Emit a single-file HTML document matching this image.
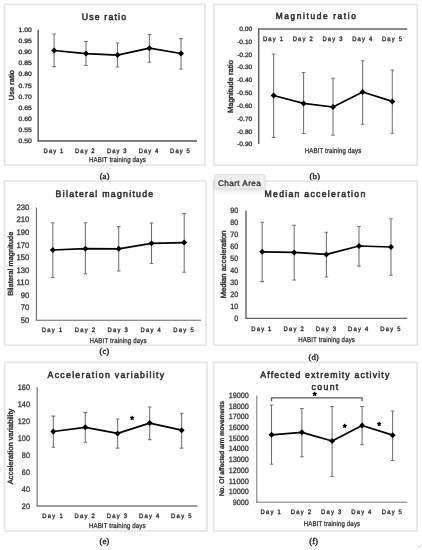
<!DOCTYPE html><html><head><meta charset="utf-8"><title>HABIT training charts</title><style>html,body{margin:0;padding:0;background:#fff;overflow:hidden}svg{display:block}text{font-family:"Liberation Sans",Arial,sans-serif;stroke-linejoin:round;text-rendering:geometricPrecision}</style></head><body>
<svg width="422" height="550" viewBox="0 0 422 550">
<rect width="422" height="550" fill="#fff"/>
<rect x="4.5" y="4.3" width="200.40" height="160.80" fill="#fff" stroke="#e5e5e5" stroke-width="1.7"/>
<text transform="translate(81.70 20.20) scale(0.93 1)" font-size="9.4" textLength="47.74" lengthAdjust="spacing" fill="#2e2e2e" stroke="#2e2e2e" stroke-width="0.55">Use ratio</text>
<text transform="translate(31.85 31.86)" font-size="6.3" text-anchor="end" textLength="13.30" lengthAdjust="spacingAndGlyphs" fill="#333" stroke="#333" stroke-width="0.3">1.00</text>
<text transform="translate(31.85 43.01)" font-size="6.3" text-anchor="end" textLength="13.30" lengthAdjust="spacingAndGlyphs" fill="#333" stroke="#333" stroke-width="0.3">0.95</text>
<text transform="translate(31.85 54.16)" font-size="6.3" text-anchor="end" textLength="13.30" lengthAdjust="spacingAndGlyphs" fill="#333" stroke="#333" stroke-width="0.3">0.90</text>
<text transform="translate(31.85 65.31)" font-size="6.3" text-anchor="end" textLength="13.30" lengthAdjust="spacingAndGlyphs" fill="#333" stroke="#333" stroke-width="0.3">0.85</text>
<text transform="translate(31.85 76.46)" font-size="6.3" text-anchor="end" textLength="13.30" lengthAdjust="spacingAndGlyphs" fill="#333" stroke="#333" stroke-width="0.3">0.80</text>
<text transform="translate(31.85 87.61)" font-size="6.3" text-anchor="end" textLength="13.30" lengthAdjust="spacingAndGlyphs" fill="#333" stroke="#333" stroke-width="0.3">0.75</text>
<text transform="translate(31.85 98.76)" font-size="6.3" text-anchor="end" textLength="13.30" lengthAdjust="spacingAndGlyphs" fill="#333" stroke="#333" stroke-width="0.3">0.70</text>
<text transform="translate(31.85 109.91)" font-size="6.3" text-anchor="end" textLength="13.30" lengthAdjust="spacingAndGlyphs" fill="#333" stroke="#333" stroke-width="0.3">0.65</text>
<text transform="translate(31.85 121.06)" font-size="6.3" text-anchor="end" textLength="13.30" lengthAdjust="spacingAndGlyphs" fill="#333" stroke="#333" stroke-width="0.3">0.60</text>
<text transform="translate(31.85 132.21)" font-size="6.3" text-anchor="end" textLength="13.30" lengthAdjust="spacingAndGlyphs" fill="#333" stroke="#333" stroke-width="0.3">0.55</text>
<text transform="translate(31.85 143.36)" font-size="6.3" text-anchor="end" textLength="13.30" lengthAdjust="spacingAndGlyphs" fill="#333" stroke="#333" stroke-width="0.3">0.50</text>
<line x1="38.2" y1="29.8" x2="38.2" y2="141.2" stroke="#555" stroke-width="1.4"/>
<line x1="37.6" y1="141" x2="197" y2="141" stroke="#555" stroke-width="1.4"/>
<text transform="translate(53.40 152.80) scale(0.92 1)" font-size="6.4" text-anchor="middle" textLength="21.30" lengthAdjust="spacing" fill="#333" stroke="#333" stroke-width="0.35">Day 1</text>
<text transform="translate(84.80 152.80) scale(0.92 1)" font-size="6.4" text-anchor="middle" textLength="21.30" lengthAdjust="spacing" fill="#333" stroke="#333" stroke-width="0.35">Day 2</text>
<text transform="translate(116.70 152.80) scale(0.92 1)" font-size="6.4" text-anchor="middle" textLength="21.30" lengthAdjust="spacing" fill="#333" stroke="#333" stroke-width="0.35">Day 3</text>
<text transform="translate(148.50 152.80) scale(0.92 1)" font-size="6.4" text-anchor="middle" textLength="21.30" lengthAdjust="spacing" fill="#333" stroke="#333" stroke-width="0.35">Day 4</text>
<text transform="translate(179.90 152.80) scale(0.92 1)" font-size="6.4" text-anchor="middle" textLength="21.30" lengthAdjust="spacing" fill="#333" stroke="#333" stroke-width="0.35">Day 5</text>
<text transform="translate(88.90 162.40) scale(0.86 1)" font-size="7.1" textLength="66.28" lengthAdjust="spacing" fill="#262626" stroke="#262626" stroke-width="0.25">HABIT training days</text>
<text transform="translate(14.10 100.20) rotate(-90)" font-size="7.4" textLength="30.20" lengthAdjust="spacing" fill="#262626" stroke="#262626" stroke-width="0.35">Use ratio</text>
<path d="M54.10 34.00V66.60M52.30 34.00h3.6M52.30 66.60h3.6" stroke="#727272" stroke-width="1.05" fill="none"/>
<path d="M86.00 41.40V65.50M84.20 41.40h3.6M84.20 65.50h3.6" stroke="#727272" stroke-width="1.05" fill="none"/>
<path d="M117.50 43.00V66.90M115.70 43.00h3.6M115.70 66.90h3.6" stroke="#727272" stroke-width="1.05" fill="none"/>
<path d="M149.40 34.50V62.20M147.60 34.50h3.6M147.60 62.20h3.6" stroke="#727272" stroke-width="1.05" fill="none"/>
<path d="M181.00 38.60V69.00M179.20 38.60h3.6M179.20 69.00h3.6" stroke="#727272" stroke-width="1.05" fill="none"/>
<polyline points="54.10,50.50 86.00,53.60 117.50,55.10 149.40,48.20 181.00,53.50" fill="none" stroke="#000" stroke-width="1.75" stroke-linejoin="round"/>
<path d="M54.10 47.50L57.10 50.50L54.10 53.50L51.10 50.50Z" fill="#000"/>
<path d="M86.00 50.60L89.00 53.60L86.00 56.60L83.00 53.60Z" fill="#000"/>
<path d="M117.50 52.10L120.50 55.10L117.50 58.10L114.50 55.10Z" fill="#000"/>
<path d="M149.40 45.20L152.40 48.20L149.40 51.20L146.40 48.20Z" fill="#000"/>
<path d="M181.00 50.50L184.00 53.50L181.00 56.50L178.00 53.50Z" fill="#000"/>
<text transform="translate(104.50 179.10)" font-size="8.8" text-anchor="middle" fill="#1e1e1e" stroke="#1e1e1e" stroke-width="0.4" style='font-family:"Liberation Serif", "Times New Roman", serif'>(a)</text>
<rect x="213.9" y="4.3" width="203.30" height="160.90" fill="#fff" stroke="#e5e5e5" stroke-width="1.7"/>
<text transform="translate(275.80 18.80) scale(0.93 1)" font-size="9.0" textLength="86.02" lengthAdjust="spacing" fill="#2e2e2e" stroke="#2e2e2e" stroke-width="0.55">Magnitude ratio</text>
<text transform="translate(252.25 30.96)" font-size="6.3" text-anchor="end" textLength="13.10" lengthAdjust="spacingAndGlyphs" fill="#333" stroke="#333" stroke-width="0.3">0.00</text>
<text transform="translate(252.25 43.78)" font-size="6.3" text-anchor="end" textLength="15.10" lengthAdjust="spacingAndGlyphs" fill="#333" stroke="#333" stroke-width="0.3">-0.10</text>
<text transform="translate(252.25 56.60)" font-size="6.3" text-anchor="end" textLength="15.10" lengthAdjust="spacingAndGlyphs" fill="#333" stroke="#333" stroke-width="0.3">-0.20</text>
<text transform="translate(252.25 69.42)" font-size="6.3" text-anchor="end" textLength="15.10" lengthAdjust="spacingAndGlyphs" fill="#333" stroke="#333" stroke-width="0.3">-0.30</text>
<text transform="translate(252.25 82.24)" font-size="6.3" text-anchor="end" textLength="15.10" lengthAdjust="spacingAndGlyphs" fill="#333" stroke="#333" stroke-width="0.3">-0.40</text>
<text transform="translate(252.25 95.06)" font-size="6.3" text-anchor="end" textLength="15.10" lengthAdjust="spacingAndGlyphs" fill="#333" stroke="#333" stroke-width="0.3">-0.50</text>
<text transform="translate(252.25 107.88)" font-size="6.3" text-anchor="end" textLength="15.10" lengthAdjust="spacingAndGlyphs" fill="#333" stroke="#333" stroke-width="0.3">-0.60</text>
<text transform="translate(252.25 120.70)" font-size="6.3" text-anchor="end" textLength="15.10" lengthAdjust="spacingAndGlyphs" fill="#333" stroke="#333" stroke-width="0.3">-0.70</text>
<text transform="translate(252.25 133.52)" font-size="6.3" text-anchor="end" textLength="15.10" lengthAdjust="spacingAndGlyphs" fill="#333" stroke="#333" stroke-width="0.3">-0.80</text>
<text transform="translate(252.25 146.34)" font-size="6.3" text-anchor="end" textLength="15.10" lengthAdjust="spacingAndGlyphs" fill="#333" stroke="#333" stroke-width="0.3">-0.90</text>
<line x1="258.7" y1="28.5" x2="258.7" y2="144" stroke="#636363" stroke-width="1.5"/>
<line x1="258.2" y1="29" x2="407.2" y2="29" stroke="#636363" stroke-width="1.5"/>
<text transform="translate(273.00 40.70) scale(0.92 1)" font-size="6.4" text-anchor="middle" textLength="21.96" lengthAdjust="spacing" fill="#333" stroke="#333" stroke-width="0.35">Day 1</text>
<text transform="translate(302.75 40.70) scale(0.92 1)" font-size="6.4" text-anchor="middle" textLength="21.96" lengthAdjust="spacing" fill="#333" stroke="#333" stroke-width="0.35">Day 2</text>
<text transform="translate(332.50 40.70) scale(0.92 1)" font-size="6.4" text-anchor="middle" textLength="21.96" lengthAdjust="spacing" fill="#333" stroke="#333" stroke-width="0.35">Day 3</text>
<text transform="translate(362.25 40.70) scale(0.92 1)" font-size="6.4" text-anchor="middle" textLength="21.96" lengthAdjust="spacing" fill="#333" stroke="#333" stroke-width="0.35">Day 4</text>
<text transform="translate(392.00 40.70) scale(0.92 1)" font-size="6.4" text-anchor="middle" textLength="21.96" lengthAdjust="spacing" fill="#333" stroke="#333" stroke-width="0.35">Day 5</text>
<text transform="translate(304.80 152.70) scale(0.86 1)" font-size="7.1" textLength="65.58" lengthAdjust="spacing" fill="#262626" stroke="#262626" stroke-width="0.25">HABIT training days</text>
<text transform="translate(233.10 113.10) rotate(-90)" font-size="7.6" textLength="53.10" lengthAdjust="spacing" fill="#262626" stroke="#262626" stroke-width="0.35">Magnitude ratio</text>
<path d="M273.60 54.00V137.40M271.80 54.00h3.6M271.80 137.40h3.6" stroke="#727272" stroke-width="1.05" fill="none"/>
<path d="M303.60 72.40V133.40M301.80 72.40h3.6M301.80 133.40h3.6" stroke="#727272" stroke-width="1.05" fill="none"/>
<path d="M333.00 78.20V135.20M331.20 78.20h3.6M331.20 135.20h3.6" stroke="#727272" stroke-width="1.05" fill="none"/>
<path d="M362.60 60.70V124.20M360.80 60.70h3.6M360.80 124.20h3.6" stroke="#727272" stroke-width="1.05" fill="none"/>
<path d="M392.30 69.90V133.20M390.50 69.90h3.6M390.50 133.20h3.6" stroke="#727272" stroke-width="1.05" fill="none"/>
<polyline points="273.60,95.50 303.60,103.40 333.00,107.00 362.60,92.00 392.30,101.40" fill="none" stroke="#000" stroke-width="1.75" stroke-linejoin="round"/>
<path d="M273.60 92.50L276.60 95.50L273.60 98.50L270.60 95.50Z" fill="#000"/>
<path d="M303.60 100.40L306.60 103.40L303.60 106.40L300.60 103.40Z" fill="#000"/>
<path d="M333.00 104.00L336.00 107.00L333.00 110.00L330.00 107.00Z" fill="#000"/>
<path d="M362.60 89.00L365.60 92.00L362.60 95.00L359.60 92.00Z" fill="#000"/>
<path d="M392.30 98.40L395.30 101.40L392.30 104.40L389.30 101.40Z" fill="#000"/>
<text transform="translate(314.70 178.80)" font-size="8.8" text-anchor="middle" fill="#1e1e1e" stroke="#1e1e1e" stroke-width="0.4" style='font-family:"Liberation Serif", "Times New Roman", serif'>(b)</text>
<rect x="4.5" y="181.1" width="201.50" height="164.10" fill="#fff" stroke="#e5e5e5" stroke-width="1.7"/>
<text transform="translate(55.60 197.40) scale(0.93 1)" font-size="9.4" textLength="104.95" lengthAdjust="spacing" fill="#2e2e2e" stroke="#2e2e2e" stroke-width="0.55">Bilateral magnitude</text>
<text transform="translate(29.25 209.76)" font-size="8.0" text-anchor="end" textLength="12.80" lengthAdjust="spacingAndGlyphs" fill="#333" stroke="#333" stroke-width="0.3">230</text>
<text transform="translate(29.25 222.35)" font-size="8.0" text-anchor="end" textLength="12.80" lengthAdjust="spacingAndGlyphs" fill="#333" stroke="#333" stroke-width="0.3">210</text>
<text transform="translate(29.25 234.94)" font-size="8.0" text-anchor="end" textLength="12.80" lengthAdjust="spacingAndGlyphs" fill="#333" stroke="#333" stroke-width="0.3">190</text>
<text transform="translate(29.25 247.53)" font-size="8.0" text-anchor="end" textLength="12.80" lengthAdjust="spacingAndGlyphs" fill="#333" stroke="#333" stroke-width="0.3">170</text>
<text transform="translate(29.25 260.12)" font-size="8.0" text-anchor="end" textLength="12.80" lengthAdjust="spacingAndGlyphs" fill="#333" stroke="#333" stroke-width="0.3">150</text>
<text transform="translate(29.25 272.71)" font-size="8.0" text-anchor="end" textLength="12.80" lengthAdjust="spacingAndGlyphs" fill="#333" stroke="#333" stroke-width="0.3">130</text>
<text transform="translate(29.25 285.30)" font-size="8.0" text-anchor="end" textLength="12.80" lengthAdjust="spacingAndGlyphs" fill="#333" stroke="#333" stroke-width="0.3">110</text>
<text transform="translate(29.25 297.89)" font-size="8.0" text-anchor="end" textLength="8.50" lengthAdjust="spacingAndGlyphs" fill="#333" stroke="#333" stroke-width="0.3">90</text>
<text transform="translate(29.25 310.48)" font-size="8.0" text-anchor="end" textLength="8.50" lengthAdjust="spacingAndGlyphs" fill="#333" stroke="#333" stroke-width="0.3">70</text>
<text transform="translate(29.25 323.07)" font-size="8.0" text-anchor="end" textLength="8.50" lengthAdjust="spacingAndGlyphs" fill="#333" stroke="#333" stroke-width="0.3">50</text>
<line x1="36.4" y1="207.5" x2="36.4" y2="320.6" stroke="#686868" stroke-width="1.1"/>
<line x1="35.8" y1="320.3" x2="200.9" y2="320.3" stroke="#686868" stroke-width="1.1"/>
<text transform="translate(52.00 331.90) scale(0.92 1)" font-size="6.4" text-anchor="middle" textLength="22.17" lengthAdjust="spacing" fill="#333" stroke="#333" stroke-width="0.35">Day 1</text>
<text transform="translate(84.90 331.90) scale(0.92 1)" font-size="6.4" text-anchor="middle" textLength="22.17" lengthAdjust="spacing" fill="#333" stroke="#333" stroke-width="0.35">Day 2</text>
<text transform="translate(117.70 331.90) scale(0.92 1)" font-size="6.4" text-anchor="middle" textLength="22.17" lengthAdjust="spacing" fill="#333" stroke="#333" stroke-width="0.35">Day 3</text>
<text transform="translate(150.60 331.90) scale(0.92 1)" font-size="6.4" text-anchor="middle" textLength="22.17" lengthAdjust="spacing" fill="#333" stroke="#333" stroke-width="0.35">Day 4</text>
<text transform="translate(183.50 331.90) scale(0.92 1)" font-size="6.4" text-anchor="middle" textLength="22.17" lengthAdjust="spacing" fill="#333" stroke="#333" stroke-width="0.35">Day 5</text>
<text transform="translate(89.60 343.30) scale(0.86 1)" font-size="7.1" textLength="66.28" lengthAdjust="spacing" fill="#262626" stroke="#262626" stroke-width="0.25">HABIT training days</text>
<text transform="translate(12.90 295.80) rotate(-90)" font-size="7.4" textLength="64.20" lengthAdjust="spacing" fill="#262626" stroke="#262626" stroke-width="0.35">Bilateral magnitude</text>
<path d="M52.80 222.70V277.50M51.00 222.70h3.6M51.00 277.50h3.6" stroke="#727272" stroke-width="1.05" fill="none"/>
<path d="M85.40 222.70V273.80M83.60 222.70h3.6M83.60 273.80h3.6" stroke="#727272" stroke-width="1.05" fill="none"/>
<path d="M118.70 226.60V270.90M116.90 226.60h3.6M116.90 270.90h3.6" stroke="#727272" stroke-width="1.05" fill="none"/>
<path d="M151.50 222.90V263.40M149.70 222.90h3.6M149.70 263.40h3.6" stroke="#727272" stroke-width="1.05" fill="none"/>
<path d="M184.20 213.60V272.30M182.40 213.60h3.6M182.40 272.30h3.6" stroke="#727272" stroke-width="1.05" fill="none"/>
<polyline points="52.80,250.00 85.40,248.70 118.70,248.80 151.50,243.30 184.20,242.60" fill="none" stroke="#000" stroke-width="1.75" stroke-linejoin="round"/>
<path d="M52.80 247.00L55.80 250.00L52.80 253.00L49.80 250.00Z" fill="#000"/>
<path d="M85.40 245.70L88.40 248.70L85.40 251.70L82.40 248.70Z" fill="#000"/>
<path d="M118.70 245.80L121.70 248.80L118.70 251.80L115.70 248.80Z" fill="#000"/>
<path d="M151.50 240.30L154.50 243.30L151.50 246.30L148.50 243.30Z" fill="#000"/>
<path d="M184.20 239.60L187.20 242.60L184.20 245.60L181.20 242.60Z" fill="#000"/>
<text transform="translate(104.40 353.70)" font-size="8.8" text-anchor="middle" fill="#1e1e1e" stroke="#1e1e1e" stroke-width="0.4" style='font-family:"Liberation Serif", "Times New Roman", serif'>(c)</text>
<rect x="213.6" y="181.1" width="203.60" height="164.10" fill="#fff" stroke="#e5e5e5" stroke-width="1.7"/>
<text transform="translate(264.50 196.90) scale(0.93 1)" font-size="9.4" textLength="108.39" lengthAdjust="spacing" fill="#2e2e2e" stroke="#2e2e2e" stroke-width="0.55">Median acceleration</text>
<text transform="translate(238.15 212.99)" font-size="7.8" text-anchor="end" textLength="7.90" lengthAdjust="spacingAndGlyphs" fill="#333" stroke="#333" stroke-width="0.3">90</text>
<text transform="translate(238.15 224.99)" font-size="7.8" text-anchor="end" textLength="7.90" lengthAdjust="spacingAndGlyphs" fill="#333" stroke="#333" stroke-width="0.3">80</text>
<text transform="translate(238.15 236.99)" font-size="7.8" text-anchor="end" textLength="7.90" lengthAdjust="spacingAndGlyphs" fill="#333" stroke="#333" stroke-width="0.3">70</text>
<text transform="translate(238.15 248.99)" font-size="7.8" text-anchor="end" textLength="7.90" lengthAdjust="spacingAndGlyphs" fill="#333" stroke="#333" stroke-width="0.3">60</text>
<text transform="translate(238.15 260.99)" font-size="7.8" text-anchor="end" textLength="7.90" lengthAdjust="spacingAndGlyphs" fill="#333" stroke="#333" stroke-width="0.3">50</text>
<text transform="translate(238.15 272.99)" font-size="7.8" text-anchor="end" textLength="7.90" lengthAdjust="spacingAndGlyphs" fill="#333" stroke="#333" stroke-width="0.3">40</text>
<text transform="translate(238.15 284.99)" font-size="7.8" text-anchor="end" textLength="7.90" lengthAdjust="spacingAndGlyphs" fill="#333" stroke="#333" stroke-width="0.3">30</text>
<text transform="translate(238.15 296.99)" font-size="7.8" text-anchor="end" textLength="7.90" lengthAdjust="spacingAndGlyphs" fill="#333" stroke="#333" stroke-width="0.3">20</text>
<text transform="translate(238.15 308.99)" font-size="7.8" text-anchor="end" textLength="7.90" lengthAdjust="spacingAndGlyphs" fill="#333" stroke="#333" stroke-width="0.3">10</text>
<text transform="translate(238.15 320.99)" font-size="7.8" text-anchor="end" textLength="3.95" lengthAdjust="spacingAndGlyphs" fill="#333" stroke="#333" stroke-width="0.3">0</text>
<line x1="246" y1="210.8" x2="246" y2="318.8" stroke="#626262" stroke-width="1.4"/>
<line x1="245.5" y1="318.4" x2="407.2" y2="318.4" stroke="#626262" stroke-width="1.4"/>
<text transform="translate(261.30 330.60) scale(0.92 1)" font-size="6.4" text-anchor="middle" textLength="21.96" lengthAdjust="spacing" fill="#333" stroke="#333" stroke-width="0.35">Day 1</text>
<text transform="translate(293.60 330.60) scale(0.92 1)" font-size="6.4" text-anchor="middle" textLength="21.96" lengthAdjust="spacing" fill="#333" stroke="#333" stroke-width="0.35">Day 2</text>
<text transform="translate(325.90 330.60) scale(0.92 1)" font-size="6.4" text-anchor="middle" textLength="21.96" lengthAdjust="spacing" fill="#333" stroke="#333" stroke-width="0.35">Day 3</text>
<text transform="translate(358.10 330.60) scale(0.92 1)" font-size="6.4" text-anchor="middle" textLength="21.96" lengthAdjust="spacing" fill="#333" stroke="#333" stroke-width="0.35">Day 4</text>
<text transform="translate(390.40 330.60) scale(0.92 1)" font-size="6.4" text-anchor="middle" textLength="21.96" lengthAdjust="spacing" fill="#333" stroke="#333" stroke-width="0.35">Day 5</text>
<text transform="translate(298.30 341.80) scale(0.86 1)" font-size="7.1" textLength="65.81" lengthAdjust="spacing" fill="#262626" stroke="#262626" stroke-width="0.25">HABIT training days</text>
<text transform="translate(225.80 298.30) rotate(-90)" font-size="7.6" textLength="67.80" lengthAdjust="spacing" fill="#262626" stroke="#262626" stroke-width="0.35">Median acceleration</text>
<path d="M262.20 222.20V281.60M260.40 222.20h3.6M260.40 281.60h3.6" stroke="#727272" stroke-width="1.05" fill="none"/>
<path d="M294.20 225.30V279.90M292.40 225.30h3.6M292.40 279.90h3.6" stroke="#727272" stroke-width="1.05" fill="none"/>
<path d="M326.40 232.20V276.90M324.60 232.20h3.6M324.60 276.90h3.6" stroke="#727272" stroke-width="1.05" fill="none"/>
<path d="M359.00 226.40V266.10M357.20 226.40h3.6M357.20 266.10h3.6" stroke="#727272" stroke-width="1.05" fill="none"/>
<path d="M391.00 218.70V275.20M389.20 218.70h3.6M389.20 275.20h3.6" stroke="#727272" stroke-width="1.05" fill="none"/>
<polyline points="262.20,251.80 294.20,252.40 326.40,254.40 359.00,246.00 391.00,247.00" fill="none" stroke="#000" stroke-width="1.75" stroke-linejoin="round"/>
<path d="M262.20 248.80L265.20 251.80L262.20 254.80L259.20 251.80Z" fill="#000"/>
<path d="M294.20 249.40L297.20 252.40L294.20 255.40L291.20 252.40Z" fill="#000"/>
<path d="M326.40 251.40L329.40 254.40L326.40 257.40L323.40 254.40Z" fill="#000"/>
<path d="M359.00 243.00L362.00 246.00L359.00 249.00L356.00 246.00Z" fill="#000"/>
<path d="M391.00 244.00L394.00 247.00L391.00 250.00L388.00 247.00Z" fill="#000"/>
<text transform="translate(313.60 359.90)" font-size="8.8" text-anchor="middle" fill="#1e1e1e" stroke="#1e1e1e" stroke-width="0.4" style='font-family:"Liberation Serif", "Times New Roman", serif'>(d)</text>
<rect x="4.6" y="362.3" width="202.40" height="168.60" fill="#fff" stroke="#e5e5e5" stroke-width="1.7"/>
<text transform="translate(47.60 377.80) scale(0.93 1)" font-size="9.4" textLength="125.16" lengthAdjust="spacing" fill="#2e2e2e" stroke="#2e2e2e" stroke-width="0.55">Acceleration variability</text>
<text transform="translate(29.95 389.56)" font-size="8.0" text-anchor="end" textLength="12.20" lengthAdjust="spacingAndGlyphs" fill="#333" stroke="#333" stroke-width="0.3">160</text>
<text transform="translate(29.95 406.57)" font-size="8.0" text-anchor="end" textLength="12.20" lengthAdjust="spacingAndGlyphs" fill="#333" stroke="#333" stroke-width="0.3">140</text>
<text transform="translate(29.95 423.58)" font-size="8.0" text-anchor="end" textLength="12.20" lengthAdjust="spacingAndGlyphs" fill="#333" stroke="#333" stroke-width="0.3">120</text>
<text transform="translate(29.95 440.59)" font-size="8.0" text-anchor="end" textLength="12.20" lengthAdjust="spacingAndGlyphs" fill="#333" stroke="#333" stroke-width="0.3">100</text>
<text transform="translate(29.95 457.60)" font-size="8.0" text-anchor="end" textLength="8.10" lengthAdjust="spacingAndGlyphs" fill="#333" stroke="#333" stroke-width="0.3">80</text>
<text transform="translate(29.95 474.61)" font-size="8.0" text-anchor="end" textLength="8.10" lengthAdjust="spacingAndGlyphs" fill="#333" stroke="#333" stroke-width="0.3">60</text>
<text transform="translate(29.95 491.62)" font-size="8.0" text-anchor="end" textLength="8.10" lengthAdjust="spacingAndGlyphs" fill="#333" stroke="#333" stroke-width="0.3">40</text>
<text transform="translate(29.95 508.63)" font-size="8.0" text-anchor="end" textLength="8.10" lengthAdjust="spacingAndGlyphs" fill="#333" stroke="#333" stroke-width="0.3">20</text>
<line x1="37.2" y1="387.2" x2="37.2" y2="506.4" stroke="#7c7c7c" stroke-width="1.3"/>
<line x1="36.6" y1="506" x2="197.5" y2="506" stroke="#7c7c7c" stroke-width="1.3"/>
<text transform="translate(52.50 518.00) scale(0.92 1)" font-size="6.4" text-anchor="middle" textLength="22.17" lengthAdjust="spacing" fill="#333" stroke="#333" stroke-width="0.35">Day 1</text>
<text transform="translate(84.70 518.00) scale(0.92 1)" font-size="6.4" text-anchor="middle" textLength="22.17" lengthAdjust="spacing" fill="#333" stroke="#333" stroke-width="0.35">Day 2</text>
<text transform="translate(116.90 518.00) scale(0.92 1)" font-size="6.4" text-anchor="middle" textLength="22.17" lengthAdjust="spacing" fill="#333" stroke="#333" stroke-width="0.35">Day 3</text>
<text transform="translate(149.10 518.00) scale(0.92 1)" font-size="6.4" text-anchor="middle" textLength="22.17" lengthAdjust="spacing" fill="#333" stroke="#333" stroke-width="0.35">Day 4</text>
<text transform="translate(181.30 518.00) scale(0.92 1)" font-size="6.4" text-anchor="middle" textLength="22.17" lengthAdjust="spacing" fill="#333" stroke="#333" stroke-width="0.35">Day 5</text>
<text transform="translate(88.90 527.90) scale(0.86 1)" font-size="7.1" textLength="65.93" lengthAdjust="spacing" fill="#262626" stroke="#262626" stroke-width="0.25">HABIT training days</text>
<text transform="translate(13.30 484.20) rotate(-90)" font-size="7.6" textLength="75.60" lengthAdjust="spacing" fill="#262626" stroke="#262626" stroke-width="0.35">Acceleration variability</text>
<path d="M53.30 416.10V447.30M51.50 416.10h3.6M51.50 447.30h3.6" stroke="#727272" stroke-width="1.05" fill="none"/>
<path d="M85.30 412.60V442.20M83.50 412.60h3.6M83.50 442.20h3.6" stroke="#727272" stroke-width="1.05" fill="none"/>
<path d="M117.60 418.90V448.10M115.80 418.90h3.6M115.80 448.10h3.6" stroke="#727272" stroke-width="1.05" fill="none"/>
<path d="M149.70 406.90V439.60M147.90 406.90h3.6M147.90 439.60h3.6" stroke="#727272" stroke-width="1.05" fill="none"/>
<path d="M181.60 413.20V448.10M179.80 413.20h3.6M179.80 448.10h3.6" stroke="#727272" stroke-width="1.05" fill="none"/>
<polyline points="53.30,431.50 85.30,427.30 117.60,433.40 149.70,423.10 181.60,430.20" fill="none" stroke="#000" stroke-width="1.75" stroke-linejoin="round"/>
<path d="M53.30 428.50L56.30 431.50L53.30 434.50L50.30 431.50Z" fill="#000"/>
<path d="M85.30 424.30L88.30 427.30L85.30 430.30L82.30 427.30Z" fill="#000"/>
<path d="M117.60 430.40L120.60 433.40L117.60 436.40L114.60 433.40Z" fill="#000"/>
<path d="M149.70 420.10L152.70 423.10L149.70 426.10L146.70 423.10Z" fill="#000"/>
<path d="M181.60 427.20L184.60 430.20L181.60 433.20L178.60 430.20Z" fill="#000"/>
<text transform="translate(104.40 544.20)" font-size="8.8" text-anchor="middle" fill="#1e1e1e" stroke="#1e1e1e" stroke-width="0.4" style='font-family:"Liberation Serif", "Times New Roman", serif'>(e)</text>
<rect x="213.6" y="362.3" width="203.50" height="168.60" fill="#fff" stroke="#e5e5e5" stroke-width="1.7"/>
<text transform="translate(260.30 377.90) scale(0.93 1)" font-size="9.4" textLength="138.71" lengthAdjust="spacing" fill="#2e2e2e" stroke="#2e2e2e" stroke-width="0.55">Affected extremity activity</text>
<text transform="translate(311.60 389.60) scale(0.93 1)" font-size="9.4" textLength="28.71" lengthAdjust="spacing" fill="#2e2e2e" stroke="#2e2e2e" stroke-width="0.55">count</text>
<text transform="translate(248.85 397.79)" font-size="7.8" text-anchor="end" textLength="20.10" lengthAdjust="spacingAndGlyphs" fill="#333" stroke="#333" stroke-width="0.3">19000</text>
<text transform="translate(248.85 408.51)" font-size="7.8" text-anchor="end" textLength="20.10" lengthAdjust="spacingAndGlyphs" fill="#333" stroke="#333" stroke-width="0.3">18000</text>
<text transform="translate(248.85 419.23)" font-size="7.8" text-anchor="end" textLength="20.10" lengthAdjust="spacingAndGlyphs" fill="#333" stroke="#333" stroke-width="0.3">17000</text>
<text transform="translate(248.85 429.95)" font-size="7.8" text-anchor="end" textLength="20.10" lengthAdjust="spacingAndGlyphs" fill="#333" stroke="#333" stroke-width="0.3">16000</text>
<text transform="translate(248.85 440.67)" font-size="7.8" text-anchor="end" textLength="20.10" lengthAdjust="spacingAndGlyphs" fill="#333" stroke="#333" stroke-width="0.3">15000</text>
<text transform="translate(248.85 451.39)" font-size="7.8" text-anchor="end" textLength="20.10" lengthAdjust="spacingAndGlyphs" fill="#333" stroke="#333" stroke-width="0.3">14000</text>
<text transform="translate(248.85 462.11)" font-size="7.8" text-anchor="end" textLength="20.10" lengthAdjust="spacingAndGlyphs" fill="#333" stroke="#333" stroke-width="0.3">13000</text>
<text transform="translate(248.85 472.83)" font-size="7.8" text-anchor="end" textLength="20.10" lengthAdjust="spacingAndGlyphs" fill="#333" stroke="#333" stroke-width="0.3">12000</text>
<text transform="translate(248.85 483.55)" font-size="7.8" text-anchor="end" textLength="20.10" lengthAdjust="spacingAndGlyphs" fill="#333" stroke="#333" stroke-width="0.3">11000</text>
<text transform="translate(248.85 494.27)" font-size="7.8" text-anchor="end" textLength="20.10" lengthAdjust="spacingAndGlyphs" fill="#333" stroke="#333" stroke-width="0.3">10000</text>
<text transform="translate(248.85 504.99)" font-size="7.8" text-anchor="end" textLength="16.10" lengthAdjust="spacingAndGlyphs" fill="#333" stroke="#333" stroke-width="0.3">9000</text>
<line x1="256.8" y1="395.5" x2="256.8" y2="502.6" stroke="#747474" stroke-width="1.0"/>
<line x1="256.2" y1="502.2" x2="407.4" y2="502.2" stroke="#747474" stroke-width="1.0"/>
<text transform="translate(270.60 513.80) scale(0.92 1)" font-size="6.4" text-anchor="middle" textLength="21.96" lengthAdjust="spacing" fill="#333" stroke="#333" stroke-width="0.35">Day 1</text>
<text transform="translate(300.90 513.80) scale(0.92 1)" font-size="6.4" text-anchor="middle" textLength="21.96" lengthAdjust="spacing" fill="#333" stroke="#333" stroke-width="0.35">Day 2</text>
<text transform="translate(331.10 513.80) scale(0.92 1)" font-size="6.4" text-anchor="middle" textLength="21.96" lengthAdjust="spacing" fill="#333" stroke="#333" stroke-width="0.35">Day 3</text>
<text transform="translate(361.30 513.80) scale(0.92 1)" font-size="6.4" text-anchor="middle" textLength="21.96" lengthAdjust="spacing" fill="#333" stroke="#333" stroke-width="0.35">Day 4</text>
<text transform="translate(391.80 513.80) scale(0.92 1)" font-size="6.4" text-anchor="middle" textLength="21.96" lengthAdjust="spacing" fill="#333" stroke="#333" stroke-width="0.35">Day 5</text>
<text transform="translate(303.80 525.80) scale(0.86 1)" font-size="7.1" textLength="65.47" lengthAdjust="spacing" fill="#262626" stroke="#262626" stroke-width="0.25">HABIT training days</text>
<text transform="translate(224.20 496.00) rotate(-90)" font-size="6.6" textLength="94.80" lengthAdjust="spacing" fill="#262626" stroke="#262626" stroke-width="0.35">No. Of affected arm movements</text>
<path d="M271.50 405.00V464.20M269.70 405.00h3.6M269.70 464.20h3.6" stroke="#727272" stroke-width="1.05" fill="none"/>
<path d="M301.90 408.50V456.80M300.10 408.50h3.6M300.10 456.80h3.6" stroke="#727272" stroke-width="1.05" fill="none"/>
<path d="M332.10 406.50V476.40M330.30 406.50h3.6M330.30 476.40h3.6" stroke="#727272" stroke-width="1.05" fill="none"/>
<path d="M362.10 406.50V444.80M360.30 406.50h3.6M360.30 444.80h3.6" stroke="#727272" stroke-width="1.05" fill="none"/>
<path d="M392.60 410.90V460.50M390.80 410.90h3.6M390.80 460.50h3.6" stroke="#727272" stroke-width="1.05" fill="none"/>
<polyline points="271.50,434.80 301.90,432.30 332.10,441.00 362.10,425.50 392.60,435.20" fill="none" stroke="#000" stroke-width="1.75" stroke-linejoin="round"/>
<path d="M271.50 431.80L274.50 434.80L271.50 437.80L268.50 434.80Z" fill="#000"/>
<path d="M301.90 429.30L304.90 432.30L301.90 435.30L298.90 432.30Z" fill="#000"/>
<path d="M332.10 438.00L335.10 441.00L332.10 444.00L329.10 441.00Z" fill="#000"/>
<path d="M362.10 422.50L365.10 425.50L362.10 428.50L359.10 425.50Z" fill="#000"/>
<path d="M392.60 432.20L395.60 435.20L392.60 438.20L389.60 435.20Z" fill="#000"/>
<text transform="translate(313.60 543.90)" font-size="8.8" text-anchor="middle" fill="#1e1e1e" stroke="#1e1e1e" stroke-width="0.4" style='font-family:"Liberation Serif", "Times New Roman", serif'>(f)</text>
<text transform="translate(132.10 423.30)" font-size="10" text-anchor="middle" fill="#000" stroke="#000" stroke-width="0.7">*</text>
<path d="M271.5 401.2V397.8H362.1V401.2" fill="none" stroke="#5a5a5a" stroke-width="1.3"/>
<text transform="translate(314.60 398.70)" font-size="10" text-anchor="middle" fill="#000" stroke="#000" stroke-width="0.7">*</text>
<text transform="translate(344.70 431.00)" font-size="10" text-anchor="middle" fill="#000" stroke="#000" stroke-width="0.7">*</text>
<text transform="translate(379.10 429.00)" font-size="10" text-anchor="middle" fill="#000" stroke="#000" stroke-width="0.7">*</text>
<defs><filter id="sh" x="200" y="165" width="80" height="45" filterUnits="userSpaceOnUse"><feGaussianBlur stdDeviation="2.5"/></filter></defs>
<rect x="215" y="177.5" width="50" height="14" rx="2" fill="#000" opacity="0.10" filter="url(#sh)"/>
<rect x="214.8" y="174.6" width="50.2" height="14.2" rx="2" fill="#efefef" stroke="#d6d6d6" stroke-width="0.8"/>
<text transform="translate(218.00 185.50)" font-size="8.2" textLength="42.80" lengthAdjust="spacing" fill="#1e1e1e" stroke="#1e1e1e" stroke-width="0.25">Chart Area</text>
<line x1="418.5" y1="547" x2="420.5" y2="546.5" stroke="#999" stroke-width="0.8"/>
</svg></body></html>
